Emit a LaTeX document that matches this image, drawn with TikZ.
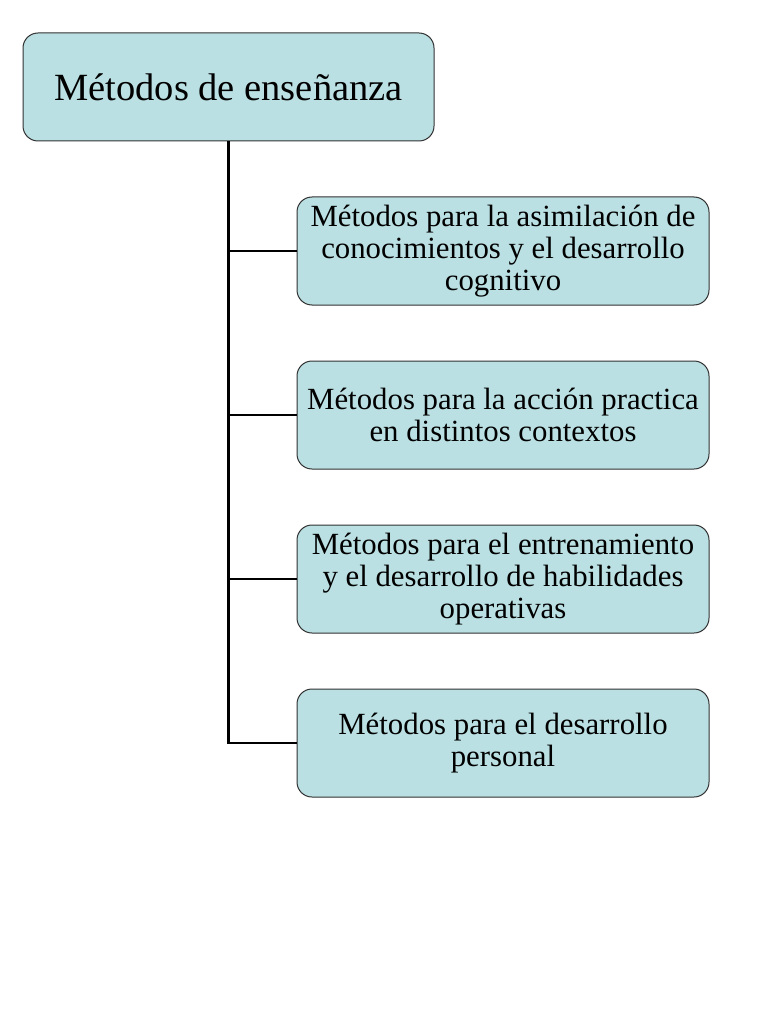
\documentclass[tikz,border=0pt]{standalone}
\usepackage{fontspec}
\setmainfont{Liberation Serif}
\definecolor{boxfill}{RGB}{187,224,227}
\definecolor{boxline}{RGB}{50,50,50}
\begin{document}
\begin{tikzpicture}[x=1pt,y=-1pt,
  mainbox/.style={draw=boxline, line width=1pt, fill=boxfill, rounded corners=15pt,
    minimum width=411pt, minimum height=108pt, inner sep=0pt, align=center},
  topbox/.style={mainbox, font=\fontsize{38.5}{40}\selectfont},
  subbox/.style={mainbox, minimum width=412pt, font=\fontsize{30.8}{32}\selectfont},
  link/.style={draw=black, line width=2.4pt}]
\useasboundingbox (0,0) rectangle (768,1024);
\fill[white] (0,0) rectangle (768,1024);
\node[topbox] (top) at (228.5,87) {Métodos de enseñanza};
\node[subbox] (c1) at (503,251) {Métodos para la asimilación de\\conocimientos y el desarrollo\\cognitivo};
\node[subbox] (c2) at (503,415) {Métodos para la acción practica\\en distintos contextos};
\node[subbox] (c3) at (503,579) {Métodos para el entrenamiento\\y el desarrollo de habilidades\\operativas};
\node[subbox] (c4) at (503,743) {Métodos para el desarrollo\\personal};
\coordinate (j1) at (top.south |- c1.west);
\coordinate (j2) at (top.south |- c2.west);
\coordinate (j3) at (top.south |- c3.west);
\coordinate (j4) at (top.south |- c4.west);
\draw[link] (top.south) -- ([yshift=-1.2pt]j4);
\draw[link] (j1) -- (c1.west);
\draw[link] (j2) -- (c2.west);
\draw[link] (j3) -- (c3.west);
\draw[link] (j4) -- (c4.west);
\end{tikzpicture}
\end{document}
